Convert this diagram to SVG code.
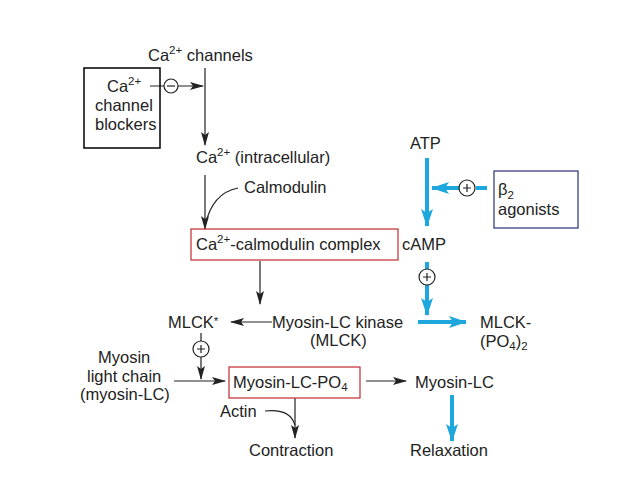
<svg xmlns="http://www.w3.org/2000/svg" width="638" height="479" viewBox="0 0 638 479">
<style>
text{font-family:"Liberation Sans",Arial,sans-serif;font-size:16.5px;fill:#222}
.k{stroke:#222;stroke-width:1.2;fill:none}
.b{stroke:#1ea7dc;stroke-width:4;fill:none}
.c{stroke:#222;stroke-width:1.2;fill:#fff}
.s{font-size:11.5px}
</style>
<defs>
<marker id="ak" markerWidth="14" markerHeight="8" refX="13" refY="4" orient="auto" markerUnits="userSpaceOnUse"><path d="M0,0L14,4L0,8L3,4Z" fill="#222"/></marker>
<marker id="ab" markerWidth="18" markerHeight="12" refX="17" refY="6" orient="auto" markerUnits="userSpaceOnUse"><path d="M0,0L18,6L0,12L4,6Z" fill="#1ea7dc"/></marker>
</defs>
<rect width="638" height="479" fill="#fff"/>
<g id="connectors">
<path class="k" d="M205,68V145" marker-end="url(#ak)"/>
<path class="k" d="M150,86H164M178,86H203" marker-end="url(#ak)"/>
<path class="k" d="M205,175V229" marker-end="url(#ak)"/>
<path class="k" d="M238,188Q212,193 205,226"/>
<path class="k" d="M260,261V304" marker-end="url(#ak)"/>
<path class="k" d="M272,322H231" marker-end="url(#ak)"/>
<path class="k" d="M201,333V341M201,357V379" marker-end="url(#ak)"/>
<path class="k" d="M174,381H225" marker-end="url(#ak)"/>
<path class="k" d="M366,381H406" marker-end="url(#ak)"/>
<path class="k" d="M295,398V438" marker-end="url(#ak)"/>
<path class="k" d="M265,411Q290,408 295,425"/>
<path class="b" d="M427,158V226" marker-end="url(#ab)"/>
<path class="b" d="M487,188H476M459,188H432" marker-end="url(#ab)"/>
<path class="b" d="M427,262V269M427,285V315" marker-end="url(#ab)"/>
<path class="b" d="M418,322H466" marker-end="url(#ab)"/>
<path class="b" d="M452,395V441" marker-end="url(#ab)"/>
<circle class="c" cx="171" cy="86" r="7"/><path class="k" d="M167,86H175"/>
<circle class="c" cx="467" cy="188" r="8"/><path class="k" d="M463,188H471M467,184V192"/>
<circle class="c" cx="427" cy="277" r="8"/><path class="k" d="M423,277H431M427,273V281"/>
<circle class="c" cx="201" cy="349" r="8"/><path class="k" d="M197,349H205M201,345V353"/>
</g>
<g id="ca-channels"><text x="148" y="61">Ca<tspan class="s" dy="-7">2+</tspan><tspan dy="7"> channels</tspan></text></g>
<g id="blockers"><rect x="84" y="68" width="76" height="80" fill="none" stroke="#000" stroke-width="1.5"/>
<text x="107" y="92">Ca<tspan class="s" dy="-7">2+</tspan></text><text x="95" y="111">channel</text><text x="95" y="130">blockers</text></g>
<g id="ca-intra"><text x="196" y="163">Ca<tspan class="s" dy="-7">2+</tspan><tspan dy="7"> (intracellular)</tspan></text></g>
<g id="calmodulin"><text x="244" y="193">Calmodulin</text></g>
<g id="complex"><rect x="191" y="229" width="207" height="31" fill="none" stroke="#c0282d" stroke-width="1.2"/>
<text x="196" y="250">Ca<tspan class="s" dy="-7">2+</tspan><tspan dy="7">-calmodulin complex</tspan></text></g>
<g id="camp"><text x="402" y="250">cAMP</text></g>
<g id="atp"><text x="410" y="149">ATP</text></g>
<g id="beta"><rect x="494" y="171" width="84" height="57" fill="none" stroke="#2a2f7a" stroke-width="1.2"/>
<text x="498" y="195">β<tspan class="s" dy="4">2</tspan></text><text x="498" y="215">agonists</text></g>
<g id="mlckstar"><text x="168" y="328">MLCK<tspan class="s" dy="-3">*</tspan></text></g>
<g id="mlck"><text x="272" y="328">Myosin-LC kinase</text><text x="310" y="346">(MLCK)</text></g>
<g id="mlckpo4"><text x="480" y="328">MLCK-</text><text x="480" y="347">(PO<tspan class="s" dy="3">4</tspan><tspan dy="-3">)</tspan><tspan class="s" dy="3">2</tspan></text></g>
<g id="myosin"><text x="98" y="363">Myosin</text><text x="87" y="382">light chain</text><text x="80" y="400">(myosin-LC)</text></g>
<g id="mlcpo4"><rect x="229" y="367" width="131" height="31" fill="none" stroke="#c0282d" stroke-width="1.2"/>
<text x="233" y="388">Myosin-LC-PO<tspan class="s" dy="3">4</tspan></text></g>
<g id="mlc"><text x="415" y="388">Myosin-LC</text></g>
<g id="actin"><text x="220" y="417">Actin</text></g>
<g id="contraction"><text x="249" y="456">Contraction</text></g>
<g id="relaxation"><text x="410" y="456">Relaxation</text></g>
</svg>
